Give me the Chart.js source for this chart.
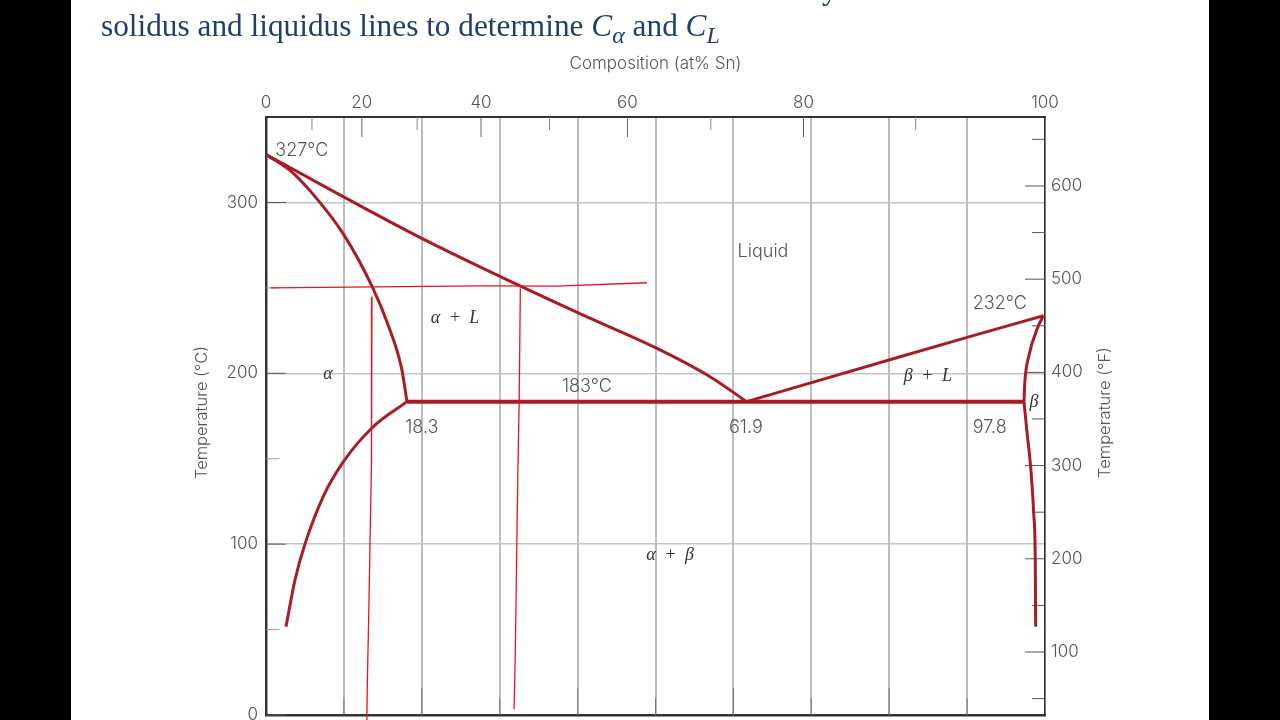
<!DOCTYPE html>
<html>
<head>
<meta charset="utf-8">
<title>Pb-Sn phase diagram</title>
<script src="https://cdn.jsdelivr.net/npm/chart.js@4"></script>
<style>
  html, body { margin: 0; padding: 0; width: 1280px; height: 720px; overflow: hidden; background: #000; }
  #slide { position: absolute; left: 71px; top: 0; width: 1138px; height: 720px; background: #fff; }
  #heading { position: absolute; left: 101px; top: 8px; font: 31.3px "Liberation Serif", serif; color: #1f3f6e; white-space: nowrap; }
  #heading sub { font-size: 24px; line-height: 0; font-style: italic; }
  #clipped { position: absolute; left: 822px; top: -29px; font: 31.3px "Liberation Serif", serif; color: #1f3f6e; }
  canvas { position: absolute; left: 0; top: 0; }
</style>
</head>
<body>
<div id="slide"></div>
<canvas id="chart" width="1280" height="720"></canvas>
<div id="clipped">y</div>
<div id="heading">solidus and liquidus lines to determine <i>C</i><sub>&alpha;</sub> and <i>C</i><sub>L</sub></div>
<script>
// composition in wt% Sn, temperature in deg C
const liquidusLeftX = [0, 20, 40, 50, 57, 61.7];
const liquidusLeftT = [328, 279, 235.5, 215, 198, 183.4];
const liquidusRightX = [61.7, 81.4, 90, 99.8];
const liquidusRightT = [183.4, 209.7, 221, 233.7];
const solidusAlphaX = [0, 3, 6, 10, 13.6, 15.7, 17.4, 18.1];
const solidusAlphaT = [328, 319, 305, 281, 251, 228, 203, 183.4];
const solvusAlphaX = [2.57, 3.72, 5, 7.36, 9.9, 13.6, 18.1];
const solvusAlphaT = [51.7, 79, 100, 128, 148, 168, 183.4];
const solidusBetaX = [97.3, 97.4, 97.9, 99.1, 99.8];
const solidusBetaT = [183.4, 194, 209.7, 227.2, 233.7];
const solvusBetaX = [97.3, 97.7, 98.2, 98.55, 98.75, 98.8];
const solvusBetaT = [183.4, 165, 143, 118, 90, 51.7];
const eutecticX = [18.1, 97.3];
const eutecticT = [183.4, 183.4];

// hand drawn tie line and drop lines
const tieX = [0.6, 27.5, 37.3, 48.9];
const tieT = [250, 251.2, 251, 253];
const dropAlphaX = [13.6, 13.6, 13.48, 13.35, 13.2, 13.0, 12.95];
const dropAlphaT = [244.8, 155, 147.3, 100.5, 61.4, 16.6, -3];
const dropLiquidX = [32.65, 32.5, 32.35, 32.2, 32, 31.84];
const dropLiquidT = [249.6, 183.4, 147, 100.5, 36, 3.3];

// axes
const atLabels = ['0', '20', '40', '60', '80', '100'];
const atLabelWt = [0, 12.3, 27.6, 46.4, 69, 100];
const atMinorWt = [5.9, 19.4, 36.4, 57.1, 83.4];
const wtGrid = [0, 10, 20, 30, 40, 50, 60, 70, 80, 90, 100];
const wtMajor = [20, 40, 60, 80];
const wtMinor = [10, 30, 50, 70, 90];
const celsiusTicks = [0, 100, 200, 300];
const celsiusMinor = [50, 150, 250];
const fahrenheitTicks = [100, 200, 300, 400, 500, 600];
const fahrenheitMinor = [50, 150, 250, 350, 450, 550, 650];

// annotations on the diagram
const plainText = ['327°C', 'Liquid', '232°C', '183°C', '18.3', '61.9', '97.8'];
const plainX = [4.6, 63.8, 94.2, 41.2, 20, 61.6, 92.9];
const plainT = [330.5, 271.5, 241, 192, 168.5, 168.5, 168.5];
const phaseText = ['α + L', 'α', 'β + L', 'β', 'α + β'];
const phaseX = [24.4, 8.1, 85.1, 98.7, 52];
const phaseT = [232.4, 199.6, 198.4, 183.2, 93.6];

const DARK_RED = '#a81c24';
const PEN_RED = '#e8141c';
const INK = '#555555';
const SANS = 'Inter, sans-serif';

function points(xs, ys) {
    return xs.map((x, i) => ({ x: x, y: ys[i] }));
}

function curve(xs, ys, width) {
    return {
        data: points(xs, ys),
        borderColor: DARK_RED,
        borderWidth: width,
        cubicInterpolationMode: 'monotone',
        pointRadius: 0,
        showLine: true,
        borderCapStyle: 'butt'
    };
}

function pen(xs, ys) {
    return {
        data: points(xs, ys),
        borderColor: PEN_RED,
        borderWidth: 1.3,
        tension: 0,
        pointRadius: 0,
        showLine: true,
        clip: false
    };
}

function setTicks(values) {
    return scale => { scale.ticks = values.map(v => ({ value: v })); };
}

// fixed box size, and no extra room for labels that overhang the ends
function fixBox(side, size) {
    return scale => {
        scale[side] = size;
        scale.paddingTop = scale.paddingBottom = scale.paddingLeft = scale.paddingRight = 0;
    };
}

function hline(ctx, x1, x2, y, color) {
    ctx.strokeStyle = color;
    ctx.beginPath();
    ctx.moveTo(x1, y);
    ctx.lineTo(x2, y);
    ctx.stroke();
}

function vline(ctx, x, y1, y2, color) {
    ctx.strokeStyle = color;
    ctx.beginPath();
    ctx.moveTo(x, y1);
    ctx.lineTo(x, y2);
    ctx.stroke();
}

// the inward tick marks of the four axes
const innerTicks = {
    id: 'innerTicks',
    beforeDatasetsDraw(chart) {
        const { ctx, chartArea: a, scales: s } = chart;
        ctx.save();
        ctx.lineWidth = 1;
        celsiusTicks.forEach(v => hline(ctx, a.left, a.left + 20, s.y.getPixelForValue(v), '#555'));
        celsiusMinor.forEach(v => hline(ctx, a.left, a.left + 13, s.y.getPixelForValue(v), '#999'));
        fahrenheitTicks.forEach(v => hline(ctx, a.right - 20, a.right, s.y2.getPixelForValue(v), '#555'));
        fahrenheitMinor.forEach(v => hline(ctx, a.right - 13, a.right, s.y2.getPixelForValue(v), '#555'));
        atLabelWt.slice(1, 5).forEach(v => vline(ctx, s.x2.getPixelForValue(v), a.top, a.top + 20, '#666'));
        atMinorWt.forEach(v => vline(ctx, s.x2.getPixelForValue(v), a.top, a.top + 13, '#888'));
        wtMajor.forEach(v => vline(ctx, s.x.getPixelForValue(v), a.bottom - 27, a.bottom, '#777'));
        wtMinor.forEach(v => vline(ctx, s.x.getPixelForValue(v), a.bottom - 17, a.bottom, '#777'));
        ctx.restore();
    }
};

function sideTitle(ctx, text, x, y) {
    ctx.save();
    ctx.translate(x, y);
    ctx.rotate(-Math.PI / 2);
    ctx.fillText(text, 0, 0);
    ctx.restore();
}

const diagramText = {
    id: 'diagramText',
    afterDatasetsDraw(chart) {
        const { ctx, chartArea: a, scales: s } = chart;
        ctx.save();
        ctx.textAlign = 'center';
        ctx.textBaseline = 'middle';
        ctx.fillStyle = INK;
        ctx.font = '300 18px ' + SANS;
        plainText.forEach((t, i) => ctx.fillText(t, s.x.getPixelForValue(plainX[i]), s.y.getPixelForValue(plainT[i])));
        ctx.font = '300 16.5px ' + SANS;
        sideTitle(ctx, 'Temperature (°C)', a.left - 64, s.y.getPixelForValue(177));
        sideTitle(ctx, 'Temperature (°F)', a.right + 60, s.y.getPixelForValue(177));
        ctx.fillStyle = '#333';
        ctx.font = 'italic 18px "Liberation Serif", serif';
        ctx.letterSpacing = '2px';
        phaseText.forEach((t, i) => ctx.fillText(t, s.x.getPixelForValue(phaseX[i]), s.y.getPixelForValue(phaseT[i])));
        ctx.restore();
    }
};

new Chart(document.getElementById('chart'), {
    type: 'scatter',
    data: {
        datasets: [
            pen(tieX, tieT),
            pen(dropAlphaX, dropAlphaT),
            pen(dropLiquidX, dropLiquidT),
            curve(liquidusLeftX, liquidusLeftT, 3),
            curve(liquidusRightX, liquidusRightT, 3),
            curve(solidusAlphaX, solidusAlphaT, 3),
            curve(solvusAlphaX, solvusAlphaT, 3),
            curve(solidusBetaX, solidusBetaT, 3),
            curve(solvusBetaX, solvusBetaT, 3),
            curve(eutecticX, eutecticT, 4)
        ]
    },
    options: {
        responsive: false,
        animation: false,
        layout: { padding: { left: 195, right: 165, top: 50, bottom: 5 } },
        plugins: { legend: { display: false }, tooltip: { enabled: false } },
        scales: {
            x: {
                type: 'linear',
                min: 0,
                max: 100,
                afterBuildTicks: setTicks(wtGrid),
                afterFit: fixBox('height', 0),
                ticks: { display: false, autoSkip: false },
                grid: { color: '#bdbdbd', lineWidth: 2, drawTicks: false },
                border: { color: '#333', width: 2.5 }
            },
            x2: {
                type: 'linear',
                position: 'top',
                min: 0,
                max: 100,
                afterBuildTicks: setTicks(atLabelWt),
                afterFit: fixBox('height', 67),
                ticks: {
                    autoSkip: false,
                    maxRotation: 0,
                    padding: 4,
                    color: INK,
                    font: { family: SANS, size: 17, weight: '300' },
                    callback: (v, i) => atLabels[i]
                },
                grid: { drawOnChartArea: false, drawTicks: false },
                border: { color: '#333', width: 2 },
                title: {
                    display: true,
                    text: 'Composition (at% Sn)',
                    color: INK,
                    font: { family: SANS, size: 17, weight: '300' }
                }
            },
            y: {
                type: 'linear',
                min: 0,
                max: 350,
                afterBuildTicks: setTicks(celsiusTicks),
                afterFit: fixBox('width', 71),
                ticks: {
                    autoSkip: false,
                    padding: 8,
                    color: INK,
                    font: { family: SANS, size: 17, weight: '300' }
                },
                grid: { color: '#c4c4c4', lineWidth: 1.5, drawTicks: false },
                border: { color: '#333', width: 2.5 }
            },
            y2: {
                type: 'linear',
                position: 'right',
                min: 32.4,
                max: 674,
                afterBuildTicks: setTicks(fahrenheitTicks),
                afterFit: fixBox('width', 70),
                ticks: {
                    autoSkip: false,
                    padding: 6,
                    color: INK,
                    font: { family: SANS, size: 17, weight: '300' }
                },
                grid: { drawOnChartArea: false, drawTicks: false },
                border: { color: '#333', width: 1.5 }
            }
        }
    },
    plugins: [innerTicks, diagramText]
});
</script>
</body>
</html>
